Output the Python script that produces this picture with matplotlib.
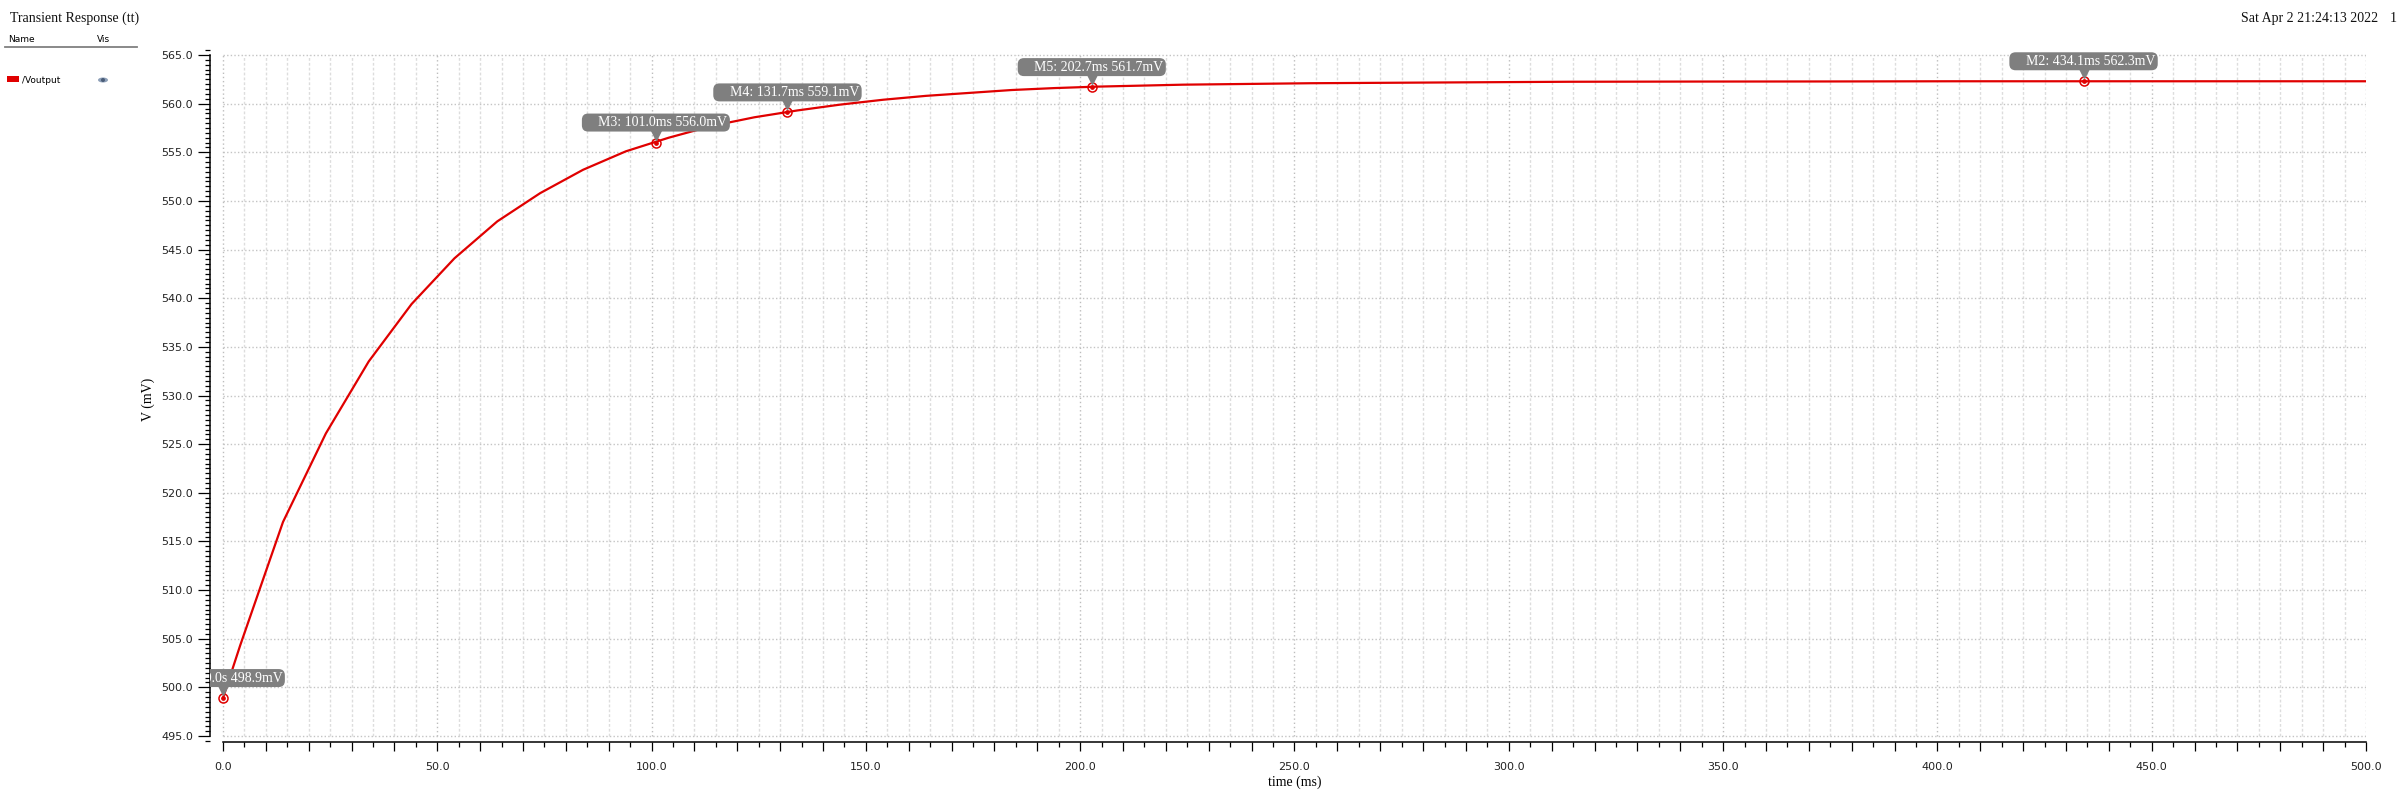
import numpy as np
import matplotlib
matplotlib.use("Agg")
import matplotlib.pyplot as plt
from matplotlib.ticker import MultipleLocator, FuncFormatter
from matplotlib.transforms import offset_copy
from matplotlib.patches import Rectangle, Ellipse

# waveform vertices (time in ms, /Voutput in mV)
time_ms = [0, 4, 14, 24, 34, 44, 54, 64, 74, 84, 94, 104, 114, 124, 134, 144,
           154, 164, 174, 184, 194, 204, 214, 224, 234, 244, 254, 274, 294,
           314, 344, 374, 404, 434, 464, 500]
vout_mv = [498.9, 504.3, 517.0, 526.1, 533.5, 539.4, 544.1, 547.9, 550.8,
           553.2, 555.1, 556.5, 557.7, 558.6, 559.3, 559.9, 560.4, 560.8,
           561.1, 561.4, 561.6, 561.75, 561.85, 561.95, 562.0, 562.05, 562.1,
           562.15, 562.2, 562.25, 562.27, 562.28, 562.3, 562.3, 562.3, 562.3]

# markers
mk_names = ["M1", "M3", "M4", "M5", "M2"]
mk_time = [0.0, 101.0, 131.7, 202.7, 434.1]
mk_volt = [498.9, 556.0, 559.1, 561.7, 562.3]
mk_text = ["M1: 0.0s 498.9mV", "M3: 101.0ms 556.0mV", "M4: 131.7ms 559.1mV",
           "M5: 202.7ms 561.7mV", "M2: 434.1ms 562.3mV"]

W, H = 2400, 800
RED = "#e00000"
BOXGRAY = "#7f7f7f"
SERIF = "Liberation Serif"


def fx(x):
    return x / W


def fy(y):
    return 1 - y / H


fig = plt.figure(figsize=(24, 8), dpi=100)
fig.patch.set_facecolor("white")

# axes placed in pixels: left spine at x=210, bottom spine at y=742
ax = fig.add_axes([fx(210), fy(742), (2366 - 210) / W, (742 - 49) / H])
ax.set_xlim(-3.033, 500)
ax.set_ylim(494.383, 565.617)
ax.patch.set_alpha(0)

# grid
for gx in np.arange(0, 501, 5):
    major = gx % 50 == 0
    ax.plot([gx, gx], [495, 565], color="#bdbdbd" if major else "#dddddd",
            lw=1.0, dashes=(1, 2) if major else (2, 1.5), zorder=0)
for gy in np.arange(495, 566, 5):
    ax.plot([0, 500], [gy, gy], color="#c4c4c4", lw=1.0, dashes=(1, 1.6), zorder=0)

ax.plot(time_ms, vout_mv, color=RED, lw=1.6, zorder=3)

# markers with labels
for i, (t, v, txt) in enumerate(zip(mk_time, mk_volt, mk_text)):
    ax.plot(t, v, "o", ms=6.5, mfc="none", mec=RED, mew=1.1, zorder=5)
    ax.plot(t, v, "o", ms=2.4, color=RED, zorder=5)
    tri = offset_copy(ax.transData, fig=fig, x=0, y=8, units="dots")
    ax.plot(t, v, "v", ms=6.5, color=BOXGRAY, transform=tri, zorder=6,
            clip_on=False)
    ax.annotate("    " + txt, xy=(t, v), xytext=(0, 14.4),
                textcoords="offset points", ha="center", va="center",
                fontsize=10, family=SERIF, color="white", zorder=7,
                clip_on=(i == 0),
                bbox=dict(boxstyle="round,pad=0.18,rounding_size=0.45",
                          fc=BOXGRAY, ec="none"))

# spines / ticks
for s in ["top", "right"]:
    ax.spines[s].set_visible(False)
ax.spines["left"].set_bounds(495, 565)
ax.spines["bottom"].set_bounds(0, 500)
for s in ["left", "bottom"]:
    ax.spines[s].set_linewidth(1.1)
    ax.spines[s].set_color("black")

ax.set_xticks(np.arange(0, 501, 10))
ax.set_yticks(np.arange(495, 566, 5))
ax.xaxis.set_major_formatter(FuncFormatter(
    lambda x, p: f"{x:.1f}" if abs(x % 50) < 1e-6 else ""))
ax.yaxis.set_major_formatter(FuncFormatter(lambda y, p: f"{y:.1f}"))
ax.xaxis.set_minor_locator(MultipleLocator(5))
ax.yaxis.set_minor_locator(MultipleLocator(0.5))

ax.tick_params(axis="x", which="major", length=6.5, width=0.9, pad=8,
               labelsize=8, labelcolor="#222222")
ax.tick_params(axis="x", which="minor", length=3.8, width=0.9)
ax.tick_params(axis="y", which="major", length=8.6, width=0.9, pad=3.5,
               labelsize=8, labelcolor="#222222")
ax.tick_params(axis="y", which="minor", length=3.6, width=0.9)

ax.set_xlabel("time (ms)", family=SERIF, fontsize=10)
ax.set_ylabel("V (mV)", family=SERIF, fontsize=10)
ax.xaxis.set_label_coords((1295 - 210) / 2156, -(776 - 742) / 693)
ax.yaxis.set_label_coords((155 - 210) / 2156, 0.495)

# header texts
fig.text(fx(10), fy(22), "Transient Response (tt)", family=SERIF, fontsize=10,
         va="baseline", color="#111111")
fig.text(fx(2378), fy(22), "Sat Apr 2 21:24:13 2022", family=SERIF,
         fontsize=10, va="baseline", ha="right", color="#111111")
fig.text(fx(2390), fy(22), "1", family=SERIF, fontsize=10, va="baseline",
         color="#111111")

# legend panel
fig.text(fx(8), fy(42), "Name", fontsize=6.5, va="baseline")
fig.text(fx(97), fy(42), "Vis", fontsize=6.5, va="baseline")
fig.add_artist(plt.Line2D([fx(5), fx(137)], [fy(47), fy(47)],
                          color="#808080", lw=1.3))
fig.add_artist(Rectangle((fx(7), fy(82)), 12 / W, 6 / H, color=RED, lw=0))
fig.text(fx(22), fy(83), "/Voutput", fontsize=6.5, va="baseline")
fig.add_artist(Ellipse((fx(103), fy(80)), 10 / W, 5 / H, color="#8ea0b8", lw=0))
fig.add_artist(Ellipse((fx(103), fy(80)), 4 / W, 4 / H, color="#4a5d78", lw=0))

fig.savefig("out.png", dpi=100)
